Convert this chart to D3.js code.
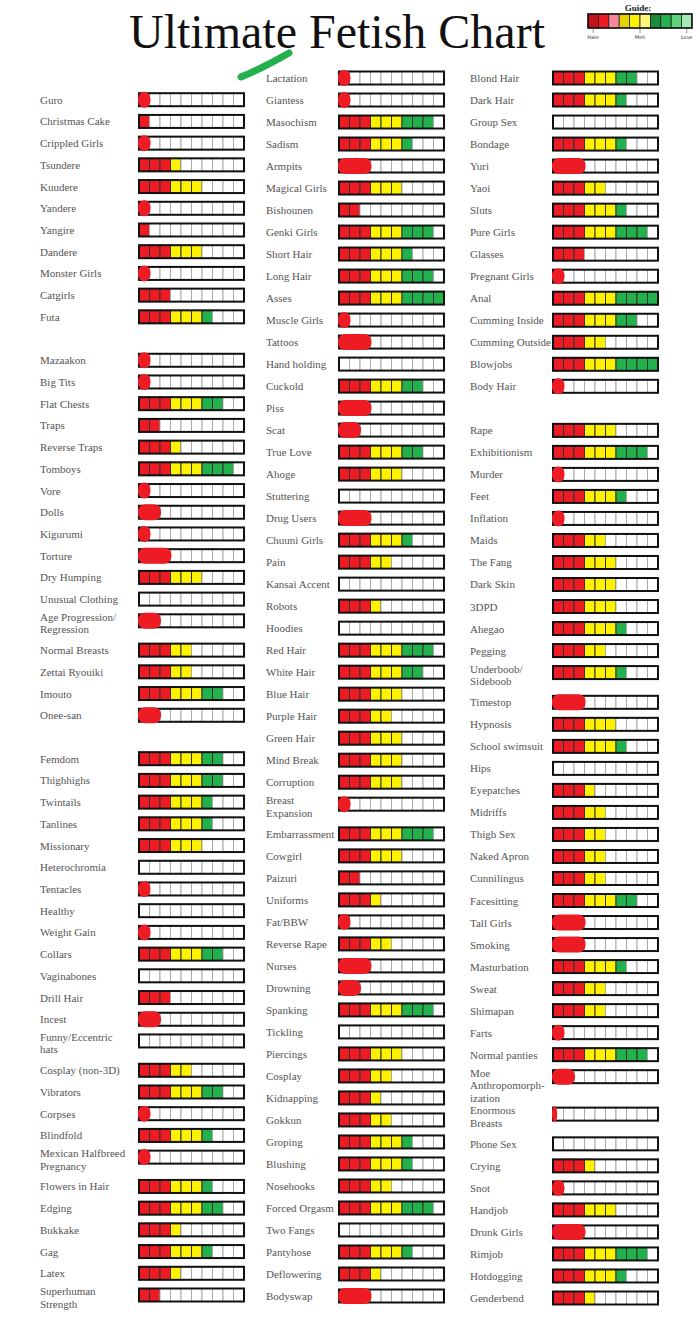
<!DOCTYPE html>
<html lang="en">
<head>
<meta charset="utf-8"/>
<script src="https://cdn.jsdelivr.net/npm/d3@7/dist/d3.min.js"></script>
<style>
  body { margin: 0; background: #fff; }
  .lbl { font: 11px "Liberation Serif", serif; fill: #555; }
  .title { font: 48px "Liberation Serif", serif; fill: #111; }
  .guide-title { font: bold 9px "Liberation Serif", serif; fill: #222; }
  .guide-lbl { font: 5px "DejaVu Sans", sans-serif; fill: #333; }
</style>
</head>
<body>
<svg id="chart" width="700" height="1323"></svg>
<script>
// number of filled cells per row (0-10)
// negative = hand-painted red mark covering that many cells
// null = row left out
const col1Labels = [null, "Guro", "Christmas Cake", "Crippled Girls", "Tsundere", "Kuudere", "Yandere", "Yangire", "Dandere", "Monster Girls",
  "Catgirls", "Futa", null, "Mazaakon", "Big Tits", "Flat Chests", "Traps", "Reverse Traps", "Tomboys", "Vore",
  "Dolls", "Kigurumi", "Torture", "Dry Humping", "Unusual Clothing", "Age Progression/\nRegression", "Normal Breasts", "Zettai Ryouiki", "Imouto", "Onee-san",
  null, "Femdom", "Thighhighs", "Twintails", "Tanlines", "Missionary", "Heterochromia", "Tentacles", "Healthy", "Weight Gain",
  "Collars", "Vaginabones", "Drill Hair", "Incest", "Funny/Eccentric\nhats", "Cosplay (non-3D)", "Vibrators", "Corpses", "Blindfold", "Mexican Halfbreed\nPregnancy",
  "Flowers in Hair", "Edging", "Bukkake", "Gag", "Latex", "Superhuman\nStrength"];
const col1Values = [null, -1, 1, -1, 4, 6, -1, 1, 6, -1,
  3, 7, null, -1, -1, 8, 2, 4, 9, -1,
  -2, -1, -3, 6, 0, -2, 5, 5, 8, -2,
  null, 8, 8, 7, 7, 6, 0, -1, 0, -1,
  8, 0, 3, -2, 0, 5, 8, -1, 7, -1,
  7, 8, 4, 7, 4, 2];

const col2Labels = ["Lactation", "Giantess", "Masochism", "Sadism", "Armpits", "Magical Girls", "Bishounen", "Genki Girls", "Short Hair", "Long Hair",
  "Asses", "Muscle Girls", "Tattoos", "Hand holding", "Cuckold", "Piss", "Scat", "True Love", "Ahoge", "Stuttering",
  "Drug Users", "Chuuni Girls", "Pain", "Kansai Accent", "Robots", "Hoodies", "Red Hair", "White Hair", "Blue Hair", "Purple Hair",
  "Green Hair", "Mind Break", "Corruption", "Breast\nExpansion", "Embarrassment", "Cowgirl", "Paizuri", "Uniforms", "Fat/BBW", "Reverse Rape",
  "Nurses", "Drowning", "Spanking", "Tickling", "Piercings", "Cosplay", "Kidnapping", "Gokkun", "Groping", "Blushing",
  "Nosehooks", "Forced Orgasm", "Two Fangs", "Pantyhose", "Deflowering", "Bodyswap"];
const col2Values = [-1, -1, 9, 7, -3, 6, 2, 9, 7, 9,
  10, -1, -3, 0, 8, -3, -2, 8, 6, 0,
  -3, 7, 5, 0, 4, 0, 9, 8, 6, 5,
  6, 6, 6, -1, 9, 6, 2, 4, -1, 5,
  -3, -2, 9, 0, 6, 5, 4, 5, 7, 7,
  5, 9, 0, 7, 4, -3];

const col3Labels = ["Blond Hair", "Dark Hair", "Group Sex", "Bondage", "Yuri", "Yaoi", "Sluts", "Pure Girls", "Glasses", "Pregnant Girls",
  "Anal", "Cumming Inside", "Cumming Outside", "Blowjobs", "Body Hair", null, "Rape", "Exhibitionism", "Murder", "Feet",
  "Inflation", "Maids", "The Fang", "Dark Skin", "3DPD", "Ahegao", "Pegging", "Underboob/\nSideboob", "Timestop", "Hypnosis",
  "School swimsuit", "Hips", "Eyepatches", "Midriffs", "Thigh Sex", "Naked Apron", "Cunnilingus", "Facesitting", "Tall Girls", "Smoking",
  "Masturbation", "Sweat", "Shimapan", "Farts", "Normal panties", "Moe\nAnthropomorph-\nization", "Enormous\nBreasts", "Phone Sex", "Crying", "Snot",
  "Handjob", "Drunk Girls", "Rimjob", "Hotdogging", "Genderbend"];
const col3Values = [8, 7, 0, 7, -3, 5, 7, 9, 3, -1,
  10, 8, 5, 10, -1, null, 6, 9, -1, 7,
  -1, 5, 6, 6, 6, 7, 5, 7, -3, 6,
  7, 0, 4, 5, 5, 5, 5, 8, -3, -3,
  7, 5, 5, -1, 9, -2, -0.3, 0, 4, -1,
  6, -3, 9, 7, 4];

const guideColors = ["#c4121c", "#ed1c24", "#f7889a", "#e3d400", "#fff200", "#fff47c", "#1c8a3c", "#22b14c", "#5ed27a", "#a5e8b4"];
const guideTicks = [{ at: 0, text: "Hate" }, { at: 4.5, text: "Meh" }, { at: 9, text: "Love" }];

const RED = "#ed1c24", YELLOW = "#fff200", GREEN = "#22b14c";
const svg = d3.select("#chart");

// title
svg.append("text").attr("class", "title")
  .attr("x", 337).attr("y", 48).attr("text-anchor", "middle")
  .text("Ultimate Fetish Chart");
// green brush stroke under the title
svg.append("path")
  .attr("d", "M241,77 Q263,68 289,53")
  .attr("fill", "none").attr("stroke", GREEN)
  .attr("stroke-width", 7).attr("stroke-linecap", "round");

// guide
const gx = d3.scaleBand().domain(d3.range(10)).range([588, 692]);
const guide = svg.append("g");
guide.append("text").attr("class", "guide-title")
  .attr("x", 638).attr("y", 11).attr("text-anchor", "middle").text("Guide:");
guide.selectAll("rect.gc").data(guideColors).enter().append("rect")
  .attr("x", (d, i) => gx(i)).attr("y", 14)
  .attr("width", gx.bandwidth()).attr("height", 14)
  .attr("fill", d => d).attr("stroke", "#222").attr("stroke-width", 0.8);
guide.append("rect").attr("x", 588).attr("y", 14).attr("width", 104).attr("height", 14)
  .attr("fill", "none").attr("stroke", "#111").attr("stroke-width", 1.5);
guide.selectAll("line.gt").data(guideTicks).enter().append("line")
  .attr("x1", d => gx(0) + gx.step() * (d.at + 0.5)).attr("x2", d => gx(0) + gx.step() * (d.at + 0.5))
  .attr("y1", 29).attr("y2", 33).attr("stroke", "#555").attr("stroke-width", 0.6);
guide.selectAll("text.gt").data(guideTicks).enter().append("text")
  .attr("class", "guide-lbl")
  .attr("x", d => gx(0) + gx.step() * (d.at + 0.5)).attr("y", 39)
  .attr("text-anchor", "middle").text(d => d.text);

// row centres: multi-line labels take a little more room
function rowCenters(labels, first, last) {
  const units = [];
  let u = 0;
  labels.forEach(l => {
    units.push(u);
    const n = l ? l.split("\n").length : 1;
    u += 1 + 0.35 * (n - 1);
  });
  const y = d3.scaleLinear().domain([0, units[units.length - 1]]).range([first, last]);
  return units.map(y);
}

const cell = d3.scaleBand().domain(d3.range(10)).range([0, 105]);
const BAR_H = 13;

function cellColor(i) {
  if (i < 3) return RED;
  if (i < 6) return YELLOW;
  return GREEN;
}

function drawColumn(labels, values, labelX, barX, firstY, lastY) {
  const ys = rowCenters(labels, firstY, lastY);
  const rows = labels.map((l, i) => ({ label: l, value: values[i], y: ys[i] }))
    .filter(d => d.label !== null);

  const g = svg.append("g");

  // labels
  const t = g.selectAll("text.lbl").data(rows).enter().append("text")
    .attr("class", "lbl")
    .attr("x", labelX)
    .attr("y", d => d.label.includes("\n") ? d.y : d.y + 4);
  t.each(function(d) {
    const el = d3.select(this);
    d.label.split("\n").forEach((line, k) => {
      el.append("tspan").attr("x", labelX).attr("dy", k === 0 ? 0 : 12.5).text(line);
    });
  });

  // bars
  const bars = g.selectAll("g.bar").data(rows).enter().append("g")
    .attr("transform", d => `translate(${barX},${d.y - BAR_H / 2})`);

  bars.each(function(d) {
    const b = d3.select(this);
    const filled = d.value > 0 ? d.value : 0;
    b.selectAll("rect.c").data(d3.range(10)).enter().append("rect")
      .attr("x", i => cell(i)).attr("y", 0)
      .attr("width", cell.bandwidth()).attr("height", BAR_H)
      .attr("fill", i => i < filled ? cellColor(i) : "#fff")
      .attr("stroke", i => i < filled ? "#333" : "#aaa")
      .attr("stroke-width", 1);
    b.append("rect")
      .attr("width", 105).attr("height", BAR_H)
      .attr("fill", "none").attr("stroke", "#111").attr("stroke-width", 2);
    if (d.value < 0) {
      // painted-over mark
      const w = cell.step() * -d.value + 2;
      b.append("rect")
        .attr("x", -1).attr("y", -1.5)
        .attr("width", w).attr("height", BAR_H + 3)
        .attr("rx", Math.min(7, w / 2)).attr("ry", 7)
        .attr("fill", RED);
    }
  });
}

drawColumn(col1Labels, col1Values, 40, 139, 78, 1295);
drawColumn(col2Labels, col2Values, 266, 339, 78, 1296);
drawColumn(col3Labels, col3Values, 470, 553, 78, 1298);
</script>
</body>
</html>
